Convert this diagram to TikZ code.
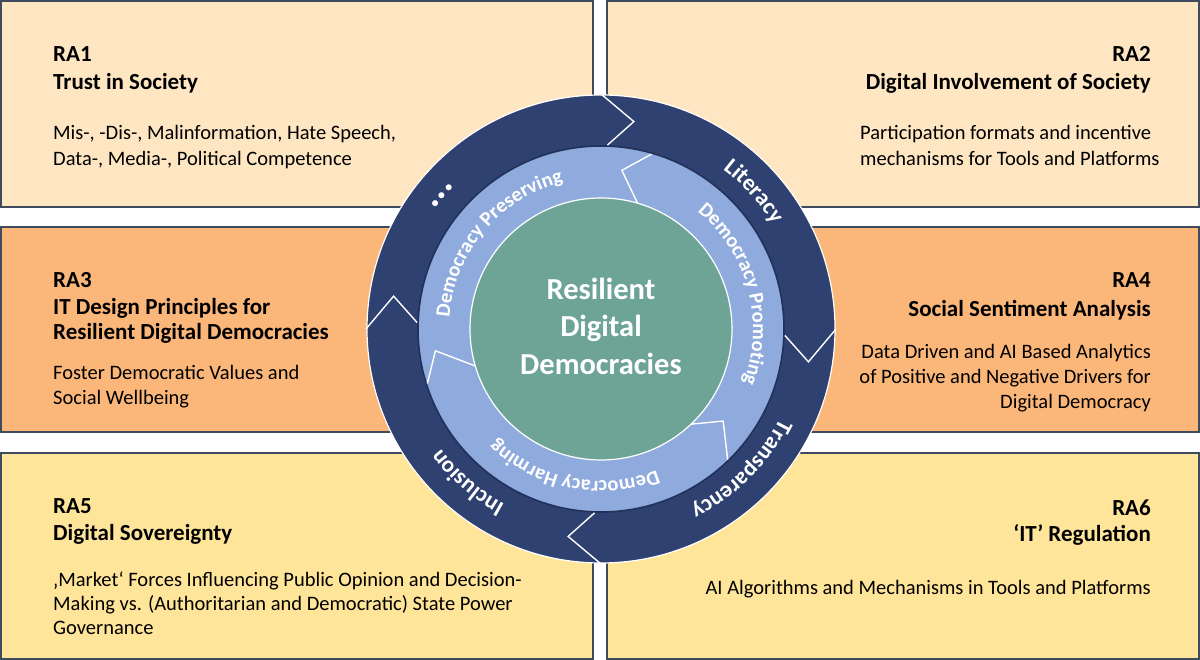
\documentclass[tikz,border=0pt]{standalone}
\usepackage{fontspec}
\setmainfont{Carlito}
\usetikzlibrary{decorations.text}
\definecolor{navy}{HTML}{2F4171}
\definecolor{lightring}{HTML}{8FAADC}
\definecolor{core}{HTML}{6DA496}
\definecolor{ringedge}{HTML}{22315A}
\definecolor{peach}{HTML}{FEE6C2}
\definecolor{orangebox}{HTML}{FBB77A}
\definecolor{yellowbox}{HTML}{FFE599}
\definecolor{boxline}{HTML}{3F4A5C}
\newcommand\rdouterfont{\fontsize{23}{23}\selectfont\bfseries}
\newcommand\rdinnerfont{\fontsize{20.5}{20.5}\selectfont\bfseries}
\newcommand\rddotfont{\fontsize{40}{40}\selectfont\bfseries}
\newcommand\ringlabel[4]{%
  \path[decorate, decoration={text along path, text={|#3|#4}, text align=center, text color=white}]
    ([shift={(601,331)}]{160-#2}:#1pt) arc[start angle={160-#2}, end angle={20-#2}, radius=#1pt];%
}
\begin{document}
\begin{tikzpicture}[x=1pt,y=1pt,
  rabox/.style={draw=boxline, line width=1.2pt},
  ratitle/.style={font=\fontsize{23}{27}\selectfont\bfseries, inner sep=0pt, text=black},
  rabody/.style={font=\fontsize{20.5}{25}\selectfont, inner sep=0pt, text=black},
  coretext/.style={font=\fontsize{30.5}{30.5}\selectfont\bfseries, inner sep=0pt, text=white},
  chev/.style={draw=white, line width=1.4pt, line join=miter}]
\useasboundingbox (0,0) rectangle (1200,660);
% boxes
\path[rabox,fill=peach] (1,453) rectangle (593,659);
\path[rabox,fill=peach] (607,453) rectangle (1199,659);
\path[rabox,fill=orangebox] (1,228) rectangle (593,433);
\path[rabox,fill=orangebox] (607,228) rectangle (1199,433);
\path[rabox,fill=yellowbox] (1,1) rectangle (593,207);
\path[rabox,fill=yellowbox] (607,1) rectangle (1199,207);
% box texts
\node[ratitle, anchor=base west] (ra1a) at (53,598) {RA1};
\node[ratitle, anchor=base west] (ra1b) at (53,570) {Trust in Society};
\node[rabody, anchor=base west] (ra1c) at (53,520) {Mis-, -Dis-, Malinformation, Hate Speech,};
\node[rabody, anchor=base west] (ra1d) at (53,494) {Data-, Media-, Political Competence};
\node[ratitle, anchor=base east] (ra2a) at (1151,598) {RA2};
\node[ratitle, anchor=base east] (ra2b) at (1151,570) {Digital Involvement of Society};
\node[rabody, anchor=base west] (ra2c) at (860,520) {Participation formats and incentive};
\node[rabody, anchor=base west] (ra2d) at (860,494) {mechanisms for Tools and Platforms};
\node[ratitle, anchor=base west] (ra3a) at (53,372) {RA3};
\node[ratitle, anchor=base west] (ra3b) at (53,345) {IT Design Principles for};
\node[ratitle, anchor=base west] (ra3c) at (53,320) {Resilient Digital Democracies};
\node[rabody, anchor=base west] (ra3d) at (53,280) {Foster Democratic Values and};
\node[rabody, anchor=base west] (ra3e) at (53,255) {Social Wellbeing};
\node[ratitle, anchor=base east] (ra4a) at (1151,372) {RA4};
\node[ratitle, anchor=base east] (ra4b) at (1151,343) {Social Sentiment Analysis};
\node[rabody, anchor=base east] (ra4c) at (1151,301) {Data Driven and AI Based Analytics};
\node[rabody, anchor=base east] (ra4d) at (1151,276) {of Positive and Negative Drivers for};
\node[rabody, anchor=base east] (ra4e) at (1151,251) {Digital Democracy};
\node[ratitle, anchor=base west] (ra5a) at (53,146) {RA5};
\node[ratitle, anchor=base west] (ra5b) at (53,119) {Digital Sovereignty};
\node[rabody, anchor=base west] (ra5c) at (53,73) {‚Market‘ Forces Influencing Public Opinion and Decision-};
\node[rabody, anchor=base west] (ra5d) at (53,49) {Making vs. (Authoritarian and Democratic) State Power};
\node[rabody, anchor=base west] (ra5e) at (53,25) {Governance};
\node[ratitle, anchor=base east] (ra6a) at (1151,144) {RA6};
\node[ratitle, anchor=base east] (ra6b) at (1151,118) {‘IT’ Regulation};
\node[rabody, anchor=base east] (ra6c) at (1151,65) {AI Algorithms and Mechanisms in Tools and Platforms};
% rings
\coordinate (C) at (601,331);
\node[circle, fill=navy, draw=white, line width=1.2pt, minimum size=468pt, inner sep=0pt] (outerring) at (C) {};
\node[circle, fill=lightring, draw=ringedge, line width=1.6pt, minimum size=366pt, inner sep=0pt] (innerring) at (C) {};
\node[circle, fill=core, draw=white, line width=1.2pt, minimum size=262pt, inner sep=0pt] (corecircle) at (C) {};
% outer chevrons
\foreach \t in {0,90,180,270}{
  \draw[chev] ([shift={(C)}]{90-\t}:235pt) -- ([shift={(C)}]{81-\t}:210pt) -- ([shift={(C)}]{88-\t}:184pt);
}
% inner chevrons
\draw[chev] ([shift={(C)}]73.9:182pt) -- ([shift={(C)}]82.5:160pt) -- ([shift={(C)}]73.8:131pt);
\draw[chev] ([shift={(C)}]-45.9:182pt) -- ([shift={(C)}]-37:153pt) -- ([shift={(C)}]-46.6:131pt);
\draw[chev] ([shift={(C)}]-162.6:182pt) -- ([shift={(C)}]-172.5:167pt) -- ([shift={(C)}]-163.6:131pt);
% center text
\node[coretext, anchor=base] (t1) at (601,360) {Resilient};
\node[coretext, anchor=base] (t2) at (601,323) {Digital};
\node[coretext, anchor=base] (t3) at (601,285) {Democracies};
% ring labels
\ringlabel{201}{48}{\rdouterfont}{Literacy}
\ringlabel{200}{135}{\rdouterfont}{Transparency}
\ringlabel{200}{221}{\rdouterfont}{Inclusion}
\ringlabel{205}{310}{\rddotfont}{...}
\ringlabel{152}{310}{\rdinnerfont}{Democracy Preserving}
\ringlabel{152}{75}{\rdinnerfont}{Democracy Promoting}
\ringlabel{152}{191}{\rdinnerfont}{Democracy Harming}
\end{tikzpicture}
\end{document}
